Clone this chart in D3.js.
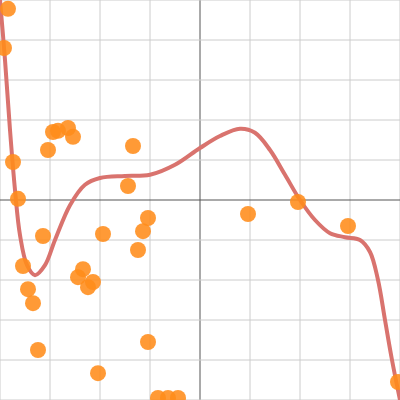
<!DOCTYPE html><html><head><script src="https://cdn.jsdelivr.net/npm/d3@7"></script>
<style>body{margin:0}</style></head><body><svg id="c" width="400" height="400"></svg>
<script>
const ptX=[-3.84,-3.92,-3.74,-3.64,-3.54,-3.44,-3.34,-3.24,-3.14,-3.04,-2.94,-2.84,-2.64,-2.54,-2.44,-2.34,-2.24,-2.14,-2.04,-1.94,-1.44,-1.34,-1.24,-1.14,-1.04,-1.04,-0.84,-0.64,-0.44,0.96,1.96,2.96,3.96];
const ptY=[4.78,3.8,0.95,0.03,-1.65,-2.23,-2.58,-3.75,-0.9,1.25,1.7,1.73,1.8,1.58,-1.93,-1.73,-2.18,-2.05,-4.33,-0.85,0.35,1.35,-1.25,-0.78,-0.45,-3.55,-4.95,-4.95,-4.95,-0.35,-0.05,-0.65,-4.55];
const curveX=[-4,-3.9,-3.8,-3.7,-3.6,-3.46,-3.3,-3.1,-2.9,-2.6,-2.3,-2,-1.5,-1,-0.5,0,0.4,0.8,1.1,1.4,1.7,2,2.3,2.6,2.9,3.2,3.4,3.56,3.7,3.84,4];
const curveY=[5,3.5,1.75,0.25,-0.88,-1.63,-1.88,-1.63,-1,-0.13,0.38,0.55,0.6,0.63,0.88,1.3,1.6,1.78,1.68,1.25,0.63,0,-0.5,-0.83,-0.93,-1,-1.3,-2,-3,-4,-5];
const W=400,H=400;
const x=d3.scaleLinear().domain([-4,4]).range([0,W]);
const y=d3.scaleLinear().domain([-5,5]).range([H,0]);
const s=d3.select("#c");
s.append("g").selectAll("line").data(d3.range(-4,5)).join("line")
 .attr("x1",d=>x(d)).attr("x2",d=>x(d)).attr("y1",0).attr("y2",H)
 .attr("stroke",d=>d===0?"#555":"#ccc").attr("stroke-width",1);
s.append("g").selectAll("line").data(d3.range(-5,6)).join("line")
 .attr("y1",d=>y(d)).attr("y2",d=>y(d)).attr("x1",0).attr("x2",W)
 .attr("stroke",d=>d===0?"#555":"#ccc").attr("stroke-width",1);
s.append("path").datum(curveX.map((d,i)=>[d,curveY[i]]))
 .attr("d",d3.line().x(d=>x(d[0])).y(d=>y(d[1])).curve(d3.curveCatmullRom))
 .attr("fill","none").attr("stroke","#d9736e").attr("stroke-width",4);
s.append("g").selectAll("circle").data(ptX.map((d,i)=>[d,ptY[i]])).join("circle")
 .attr("cx",d=>x(d[0])).attr("cy",d=>y(d[1])).attr("r",8).attr("fill","#ff8c1a").attr("opacity",0.88);
</script></body></html>
